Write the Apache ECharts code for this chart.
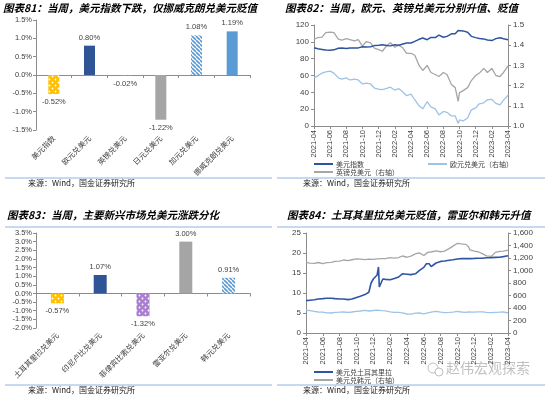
<!DOCTYPE html>
<html><head><meta charset="utf-8">
<script src="https://cdn.jsdelivr.net/npm/echarts@6/dist/echarts.min.js"></script>
<style>html,body{margin:0;padding:0;background:#fff}#c{width:550px;height:396px}</style>
</head><body><div id="c"></div>
<script>
// ---------- DATA ----------
const cat81 = ['美元指数','欧元兑美元','英镑兑美元','日元兑美元','加元兑美元','挪威克朗兑美元'];
const val81 = [-0.52, 0.80, -0.02, -1.22, 1.08, 1.19];

const cat83 = ['土耳其里拉兑美元','印尼卢比兑美元','菲律宾比索兑美元','雷亚尔兑美元','韩元兑美元'];
const val83 = [-0.57, 1.07, -1.32, 3.00, 0.91];

const dates82 = ['2021-04-01','2021-04-15','2021-05-01','2021-05-15','2021-06-01','2021-06-15','2021-07-01','2021-07-15',
 '2021-08-01','2021-08-15','2021-09-01','2021-09-15','2021-10-01','2021-10-15','2021-11-01','2021-11-15',
 '2021-12-01','2021-12-15','2022-01-01','2022-01-15','2022-02-01','2022-02-15','2022-03-01','2022-03-15',
 '2022-04-01','2022-04-15','2022-05-01','2022-05-15','2022-06-01','2022-06-15','2022-07-01','2022-07-15',
 '2022-08-01','2022-08-15','2022-09-01','2022-09-15','2022-09-26','2022-10-01','2022-10-15','2022-11-01',
 '2022-11-15','2022-12-01','2022-12-15','2023-01-01','2023-01-15','2023-02-01','2023-02-15','2023-03-01',
 '2023-03-15','2023-04-01'];
const usdIndex = [92.9,91.7,91.0,90.2,90.0,90.5,92.4,92.7,92.1,92.8,92.6,92.8,94.1,93.9,94.1,95.5,
 96.0,96.5,95.7,95.2,96.5,96.0,97.4,98.6,98.6,100.5,103.0,104.5,102.5,105.2,105.1,108.0,
 105.4,106.5,109.5,109.7,113.6,112.1,113.0,111.5,106.5,105.0,104.0,103.5,102.2,101.5,103.8,104.8,
 103.6,102.5];
const eurUsd = [1.238,1.248,1.262,1.268,1.272,1.262,1.238,1.232,1.238,1.228,1.232,1.228,1.208,1.212,1.208,1.188,
 1.182,1.180,1.186,1.192,1.178,1.185,1.168,1.150,1.158,1.130,1.100,1.085,1.120,1.095,1.085,1.055,
 1.072,1.068,1.050,1.050,1.012,1.030,1.025,1.040,1.080,1.090,1.110,1.115,1.130,1.132,1.112,1.105,
 1.128,1.152];
const gbpUsd = [1.428,1.438,1.440,1.462,1.465,1.462,1.430,1.425,1.432,1.428,1.421,1.428,1.395,1.418,1.412,1.385,
 1.378,1.370,1.398,1.412,1.390,1.400,1.386,1.360,1.360,1.350,1.300,1.275,1.300,1.265,1.255,1.245,
 1.265,1.255,1.205,1.190,1.122,1.165,1.175,1.190,1.225,1.250,1.262,1.285,1.265,1.285,1.250,1.245,
 1.265,1.298];

const datesTry = ['2021-04-01','2021-04-15','2021-05-01','2021-05-15','2021-06-01','2021-06-15','2021-07-01','2021-07-15',
 '2021-08-01','2021-08-15','2021-09-01','2021-09-15','2021-10-01','2021-10-15','2021-11-01','2021-11-15',
 '2021-11-23','2021-12-01','2021-12-08','2021-12-15','2021-12-20','2021-12-23','2021-12-29','2022-01-05',
 '2022-01-15','2022-02-01','2022-02-15','2022-03-01','2022-03-15','2022-04-01','2022-04-15','2022-05-01',
 '2022-05-15','2022-06-01','2022-06-10','2022-06-20','2022-06-27','2022-07-05','2022-07-15','2022-08-01',
 '2022-08-15','2022-09-01','2022-09-15','2022-10-01','2022-10-15','2022-11-01','2022-11-15','2022-12-01',
 '2022-12-15','2023-01-01','2023-01-15','2023-02-01','2023-02-15','2023-03-01','2023-03-15','2023-04-01'];
const usdTry = [8.1,8.2,8.3,8.5,8.6,8.7,8.7,8.6,8.5,8.5,8.35,8.5,8.9,9.2,9.6,10.2,
 12.5,13.5,13.8,14.5,16.5,11.5,12.0,13.5,13.4,13.3,13.6,14.0,14.8,14.7,14.6,14.8,
 15.6,16.4,17.3,17.3,16.6,17.0,17.5,17.9,18.0,18.2,18.3,18.5,18.6,18.6,18.6,18.65,
 18.7,18.7,18.8,18.85,18.9,18.95,19.1,19.3];

const dates84 = ['2021-04-01','2021-04-15','2021-05-01','2021-05-15','2021-06-01','2021-06-15','2021-07-01','2021-07-15',
 '2021-08-01','2021-08-15','2021-09-01','2021-09-15','2021-10-01','2021-10-15','2021-11-01','2021-11-15',
 '2021-12-01','2021-12-15','2022-01-01','2022-01-15','2022-02-01','2022-02-15','2022-03-01','2022-03-15',
 '2022-04-01','2022-04-15','2022-05-01','2022-05-15','2022-06-01','2022-06-15','2022-07-01','2022-07-15',
 '2022-08-01','2022-08-15','2022-09-01','2022-09-15','2022-10-01','2022-10-15','2022-11-01','2022-11-10',
 '2022-11-15','2022-12-01','2022-12-15','2023-01-01','2023-01-15','2023-02-01','2023-02-15','2023-03-01',
 '2023-03-15','2023-04-01'];
const usdKrw = [1130,1118,1115,1128,1110,1125,1130,1145,1150,1168,1158,1172,1185,1182,1175,1182,
 1178,1185,1190,1190,1205,1198,1205,1232,1212,1230,1265,1282,1240,1290,1300,1315,
 1300,1310,1350,1390,1435,1425,1418,1380,1330,1310,1300,1265,1235,1225,1290,1305,
 1310,1325];
const usdBrl = [5.65,5.62,5.40,5.25,5.20,5.05,5.00,5.15,5.20,5.25,5.17,5.25,5.40,5.50,5.65,5.50,
 5.62,5.70,5.57,5.55,5.30,5.15,5.15,5.05,4.75,4.70,4.95,5.00,4.80,5.05,5.30,5.40,
 5.20,5.10,5.15,5.20,5.40,5.25,5.15,5.30,5.35,5.20,5.28,5.28,5.15,5.10,5.18,5.20,
 5.25,5.05];

// ---------- HELPERS ----------
function monthIdx(s){const [y,m,d]=s.split('-').map(Number);const dim=new Date(y,m,0).getDate();return (y-2021)*12+(m-4)+(d-1)/dim;}
function pairs(dates,vals){return dates.map((d,i)=>[monthIdx(d),vals[i]]);}
function monthLabel(v){const i=Math.round(v);const y=2021+Math.floor((i+3)/12);const m=((i+3)%12)+1;return y+'-'+(m<10?'0'+m:m);}
function dots(bg){const c=document.createElement('canvas');c.width=6;c.height=6;const g=c.getContext('2d');g.fillStyle=bg;g.fillRect(0,0,6,6);g.fillStyle='#fff';
 [[1.5,1.5],[4.5,4.5]].forEach(p=>{g.beginPath();g.arc(p[0],p[1],0.9,0,Math.PI*2);g.fill();});return {image:c,repeat:'repeat'};}
function stripes(fg){const s=4;const c=document.createElement('canvas');c.width=s;c.height=s;const g=c.getContext('2d');g.fillStyle='#fff';g.fillRect(0,0,s,s);
 g.strokeStyle=fg;g.lineWidth=1.6;[-1,0,1].forEach(k=>{g.beginPath();g.moveTo(k*s,0);g.lineTo(k*s+s,s);g.stroke();});return {image:c,repeat:'repeat'};}

const C_YEL='#FFC000', C_DB='#2F5597', C_GR='#A5A5A5', C_LB='#5B9BD5', C_PU='#A97ED1';
const style81=[dots(C_YEL),C_DB,dots(C_PU),C_GR,stripes(C_LB),C_LB];
const style83=[dots(C_YEL),C_DB,dots(C_PU),C_GR,stripes(C_LB)];

const FONT='Liberation Sans, Arial, sans-serif';
const CJK='Noto Sans CJK SC';
const axisC='#8c8c8c';
const lblC='#404040';

function barData(vals,styles){return vals.map((v,i)=>({value:v,itemStyle:{color:styles[i]},
 label:{position:v>=0?'top':'bottom'}}));}

const pctLabel={show:true,fontSize:7.5,fontFamily:FONT,color:lblC,distance:4,formatter:p=>p.value.toFixed(2)+'%'};

function barY(grid,min,max){return {type:'value',gridIndex:grid,min:min,max:max,interval:0.5,
 axisLine:{show:true,lineStyle:{color:axisC}},axisTick:{show:true,length:3,lineStyle:{color:axisC}},splitLine:{show:false},
 axisLabel:{fontSize:7.5,fontFamily:FONT,color:lblC,margin:4,formatter:v=>v.toFixed(1)+'%'}};}
function barXLine(grid,cats){return {type:'category',gridIndex:grid,data:cats,axisLine:{onZero:true,lineStyle:{color:axisC}},
 axisTick:{show:true,length:3,interval:0,lineStyle:{color:axisC}},axisLabel:{show:false}};}
function barXLbl(grid,cats,margin){return {type:'category',gridIndex:grid,data:cats,position:'bottom',axisLine:{show:false,onZero:false},axisTick:{show:false},
 axisLabel:{interval:0,rotate:45,fontSize:7.5,fontFamily:CJK,color:lblC,margin:margin}};}
function timeX(grid){return {type:'value',gridIndex:grid,min:0,max:24,interval:2,axisLine:{onZero:false,lineStyle:{color:axisC}},
 axisTick:{show:true,length:3,lineStyle:{color:axisC}},splitLine:{show:false},
 axisLabel:{rotate:90,fontSize:7.5,fontFamily:FONT,color:lblC,margin:4,formatter:monthLabel}};}
function lineY(grid,pos,min,max,iv,fmt){return {type:'value',gridIndex:grid,position:pos,min:min,max:max,interval:iv,
 axisLine:{show:true,onZero:false,lineStyle:{color:axisC}},axisTick:{show:true,length:3,lineStyle:{color:axisC}},splitLine:{show:false},
 axisLabel:{fontSize:8,fontFamily:FONT,color:lblC,margin:5,formatter:fmt}};}
function leg(name,left,top){return {data:[name],left:left,top:top,padding:0,itemWidth:19,itemHeight:2,icon:'rect',
 textStyle:{fontSize:7,lineHeight:8,fontFamily:CJK,color:lblC,padding:[0,0,0,-2]}};}

const titleStyle={fontSize:10.5,fontWeight:'bold',fontStyle:'italic',fontFamily:CJK,color:'#000'};
const srcStyle={fontSize:8,fontFamily:CJK,fill:'#222'};
const sepC='#8DB4E2';

const chart=echarts.init(document.getElementById('c'),null,{renderer:'canvas'});
chart.setOption({
 animation:false,
 title:[
  {text:'图表81：当周，美元指数下跌，仅挪威克朗兑美元贬值',left:3,top:3,padding:0,textStyle:titleStyle},
  {text:'图表82：当周，欧元、英镑兑美元分别升值、贬值',left:285,top:3,padding:0,textStyle:titleStyle},
  {text:'图表83：当周，主要新兴市场兑美元涨跌分化',left:7,top:210,padding:0,textStyle:titleStyle},
  {text:'图表84：土耳其里拉兑美元贬值，雷亚尔和韩元升值',left:287,top:210,padding:0,textStyle:titleStyle}
 ],
 grid:[
  {left:36,top:20,width:214,height:110},
  {left:314,top:25,width:194,height:101},
  {left:36,top:233,width:214,height:95},
  {left:306,top:233,width:202,height:100}
 ],
 xAxis:[
  barXLine(0,cat81), barXLbl(0,cat81,7),
  timeX(1),
  barXLine(2,cat83), barXLbl(2,cat83,6),
  timeX(3)
 ],
 yAxis:[
  barY(0,-1.5,1.5),
  lineY(1,'left',0,120,20,v=>v),
  lineY(1,'right',1.0,1.5,0.1,v=>v.toFixed(1)),
  barY(2,-2,3.5),
  lineY(3,'left',0,25,5,v=>v),
  lineY(3,'right',0,1600,200,v=>v.toLocaleString('en-US'))
 ],
 legend:[
  leg('美元指数',314,160),
  leg('英镑兑美元（右轴）',314,168),
  leg('欧元兑美元（右轴）',428,160),
  leg('美元兑土耳其里拉',314,368),
  leg('美元兑韩元（右轴）',314,376)
 ],
 series:[
  {type:'bar',xAxisIndex:0,yAxisIndex:0,barWidth:11,data:barData(val81,style81),label:pctLabel},
  {name:'美元指数',type:'line',xAxisIndex:2,yAxisIndex:1,showSymbol:false,data:pairs(dates82,usdIndex),color:'#2E54A0',lineStyle:{width:1.5,color:'#2E54A0'},z:5},
  {name:'英镑兑美元（右轴）',type:'line',xAxisIndex:2,yAxisIndex:2,showSymbol:false,data:pairs(dates82,gbpUsd),color:'#A6A6A6',lineStyle:{width:1.3,color:'#A6A6A6'}},
  {name:'欧元兑美元（右轴）',type:'line',xAxisIndex:2,yAxisIndex:2,showSymbol:false,data:pairs(dates82,eurUsd),color:'#9DC3E6',lineStyle:{width:1.3,color:'#9DC3E6'}},
  {type:'bar',xAxisIndex:3,yAxisIndex:3,barWidth:13,data:barData(val83,style83),label:pctLabel},
  {name:'美元兑土耳其里拉',type:'line',xAxisIndex:5,yAxisIndex:4,showSymbol:false,data:pairs(datesTry,usdTry),color:'#2F55A4',lineStyle:{width:1.6,color:'#2F55A4'},z:5},
  {name:'美元兑韩元（右轴）',type:'line',xAxisIndex:5,yAxisIndex:5,showSymbol:false,data:pairs(dates84,usdKrw),color:'#A6A6A6',lineStyle:{width:1.3,color:'#A6A6A6'}},
  {name:'美元兑巴西雷亚尔',type:'line',xAxisIndex:5,yAxisIndex:4,showSymbol:false,data:pairs(dates84,usdBrl),color:'#9DC3E6',lineStyle:{width:1.3,color:'#9DC3E6'}}
 ],
 graphic:[
  {type:'line',shape:{x1:5,y1:178,x2:272,y2:178},style:{stroke:sepC,lineWidth:1}},
  {type:'line',shape:{x1:277,y1:178,x2:545,y2:178},style:{stroke:sepC,lineWidth:1}},
  {type:'line',shape:{x1:5,y1:227,x2:272,y2:227},style:{stroke:sepC,lineWidth:1}},
  {type:'line',shape:{x1:277,y1:227,x2:545,y2:227},style:{stroke:sepC,lineWidth:1}},
  {type:'line',shape:{x1:5,y1:385,x2:272,y2:385},style:{stroke:sepC,lineWidth:1}},
  {type:'line',shape:{x1:277,y1:385,x2:545,y2:385},style:{stroke:sepC,lineWidth:1}},
  {type:'text',left:28,top:179,style:Object.assign({text:'来源：Wind，国金证券研究所'},srcStyle)},
  {type:'text',left:303,top:179,style:Object.assign({text:'来源：Wind，国金证券研究所'},srcStyle)},
  {type:'text',left:28,top:386,style:Object.assign({text:'来源：Wind，国金证券研究所'},srcStyle)},
  {type:'text',left:303,top:386,style:Object.assign({text:'来源：Wind，国金证券研究所'},srcStyle)},
  {type:'circle',shape:{cx:433,cy:368,r:5},style:{fill:'none',stroke:'rgba(140,140,140,0.55)',lineWidth:1}},
  {type:'circle',shape:{cx:439,cy:372,r:4},style:{fill:'#fff',stroke:'rgba(140,140,140,0.55)',lineWidth:1}},
  {type:'text',left:446,top:361,style:{text:'赵伟宏观探索',fontSize:14,fontFamily:CJK,fill:'rgba(140,140,140,0.55)'}}
 ]
});
</script></body></html>
